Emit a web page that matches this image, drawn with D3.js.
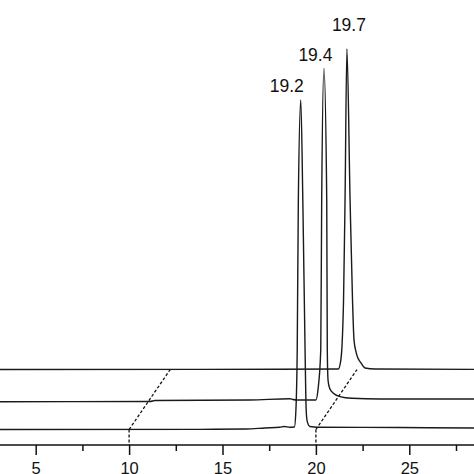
<!DOCTYPE html>
<html>
<head>
<meta charset="utf-8">
<script src="https://cdn.jsdelivr.net/npm/d3@7"></script>
<style>
  body { margin: 0; background: #fff; }
  svg { display: block; }
  .trace { fill: none; stroke: #1a1a1a; stroke-width: 1.4; }
  .guide { fill: none; stroke: #111; stroke-width: 1.3; stroke-dasharray: 3,2; }
  .axis text { font-family: "Liberation Sans", Arial, sans-serif; font-size: 16.5px; fill: #111; }
  .peak-label { font-family: "Liberation Sans", Arial, sans-serif; font-size: 17.5px; fill: #111; }
</style>
</head>
<body>
<div id="chart"></div>
<script>
// retention time (min) and signal for each run, bottom to top
var time1 = [3.0, 13.8, 16.26, 17.27, 18.07, 18.29, 18.61, 18.85, 18.93, 19.0, 19.06, 19.19, 19.3, 19.42, 19.48, 19.53, 19.68, 20.11, 24.5, 28.5];
var signal1 = [0, 0.05, 0.15, 0.45, 0.67, 0.9, 0.67, 0.76, 5.9, 24.1, 69.6, 100, 69.6, 24.1, 5.9, 2.6, 0.9, 0.67, 0.6, 0.45];

var time2 = [1.9, 10.02, 10.28, 15.37, 17.51, 17.67, 17.89, 18.9, 19.01, 19.16, 19.21, 19.33, 19.48, 19.51, 19.55, 19.63, 19.82, 20.19, 20.83, 22.33, 27.4];
var signal2 = [-0.66, -0.6, -0.3, -0.15, 0.22, 0, -0.15, -0.15, 2.9, 15.0, 60.5, 100.5, 60.5, 15.0, 5.9, 3.5, 1.98, 0.9, 0.37, 0.16, 0.16];

var time3 = [0.8, 11.6, 19.0, 19.12, 19.2, 19.28, 19.36, 19.46, 19.63, 19.76, 19.84, 19.95, 20.05, 20.21, 20.43, 20.96, 26.3];
var signal3 = [0, 0.06, 0.15, 2.3, 7.4, 21.1, 51.4, 97.3, 51.4, 21.1, 9.0, 5.3, 3.5, 2.0, 0.46, 0.16, 0.06];

var peakLabels = ["19.2", "19.4", "19.7"];
var majorTicks = [5, 10, 15, 20, 25];
var minorTicks = [7.5, 12.5, 17.5, 22.5, 27.5];
var guideTimes = [10, 20];

// waterfall offsets between runs
var shiftX = 1.1, shiftY = 9.1;

var W = 474, H = 474, axisY = 445;

var svg = d3.select("#chart").append("svg")
    .attr("width", W)
    .attr("height", H);

var x = d3.scaleLinear().domain([5, 25]).range([35.7, 409.3]);
var y = d3.scaleLinear().domain([0, 100]).range([429.5, 100]);

var runs = [
    { t: time1, s: signal1 },
    { t: time2, s: signal2 },
    { t: time3, s: signal3 }
];

svg.append("clipPath").attr("id", "plotclip")
    .append("rect").attr("x", 0).attr("y", 0).attr("width", W).attr("height", axisY);

var g = svg.append("g").attr("clip-path", "url(#plotclip)");

var line = d3.line()
    .x(function (d) { return x(d[0]); })
    .y(function (d) { return y(d[1]); })
    .curve(d3.curveMonotoneX);

// label offsets from the apex, in px
var labelOffsets = [[-14, -8], [-8.5, -7], [2, -18]];

runs.forEach(function (r, i) {
    var pts = r.t.map(function (t, k) { return [t + i * shiftX, r.s[k] + i * shiftY]; });
    g.append("path")
        .attr("class", "trace")
        .attr("d", line(pts));

    var top = pts[d3.maxIndex(pts, function (p) { return p[1]; })];
    svg.append("text")
        .attr("class", "peak-label")
        .attr("x", x(top[0]) + labelOffsets[i][0])
        .attr("y", y(top[1]) + labelOffsets[i][1])
        .attr("text-anchor", "middle")
        .text(peakLabels[i]);
});

// dashed guides: drop to axis, then skew up through the runs
guideTimes.forEach(function (t) {
    svg.append("line")
        .attr("class", "guide")
        .attr("x1", x(t)).attr("x2", x(t))
        .attr("y1", y(0)).attr("y2", axisY);
    svg.append("line")
        .attr("class", "guide")
        .attr("x1", x(t)).attr("y1", y(0))
        .attr("x2", x(t + 2 * shiftX)).attr("y2", y(2 * shiftY));
});

// x axis
var axis = svg.append("g")
    .attr("class", "axis")
    .attr("transform", "translate(0," + axisY + ")");

axis.append("line")
    .attr("x1", 0).attr("x2", W)
    .attr("stroke", "#111").attr("stroke-width", 1.6);

axis.call(d3.axisBottom(x).tickValues(majorTicks).tickSize(10).tickSizeOuter(0).tickPadding(7))
    .call(function (a) { a.select(".domain").remove(); })
    .selectAll(".tick line").attr("stroke", "#111").attr("stroke-width", 1.5);

axis.selectAll(".tick text").attr("dy", "0.71em").attr("fill", "#111");

var minor = svg.append("g")
    .attr("transform", "translate(0," + axisY + ")")
    .call(d3.axisBottom(x).tickValues(minorTicks).tickSize(6).tickFormat(""))
    .call(function (a) { a.select(".domain").remove(); });
minor.selectAll(".tick line").attr("stroke", "#111").attr("stroke-width", 1.5);
</script>
</body>
</html>
